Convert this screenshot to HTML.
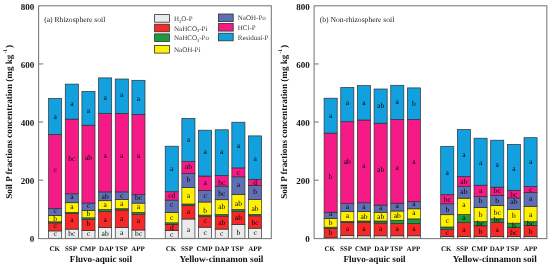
<!DOCTYPE html><html><head><meta charset="utf-8"><title>Soil P fractions</title><style>html,body{margin:0;padding:0;background:#fff;}svg{display:block;}text{font-family:"Liberation Serif","Times New Roman",serif;text-rendering:geometricPrecision;}.t{font-weight:bold;font-size:9px;fill:#111;}.x{font-weight:bold;font-size:7px;fill:#111;}.l{font-size:7.5px;fill:#000;}.lg{font-size:7px;fill:#3a3a3a;}.ti{font-size:7.6px;fill:#222;}</style></head><body>
<svg width="550" height="266" viewBox="0 0 550 266">
<rect x="0" y="0" width="550" height="266" fill="#fff"/>
<g transform="translate(0.00,0)">
<rect x="48.60" y="230.90" width="13.10" height="7.40" fill="#EBEBEB" stroke="#303030" stroke-width="0.70"/>
<rect x="48.60" y="222.90" width="13.10" height="8.00" fill="#F72828" stroke="#303030" stroke-width="0.70"/>
<rect x="48.60" y="221.80" width="13.10" height="1.10" fill="#1C9A3C" stroke="#303030" stroke-width="0.70"/>
<rect x="48.60" y="215.50" width="13.10" height="6.30" fill="#FEF000" stroke="#303030" stroke-width="0.70"/>
<rect x="48.60" y="208.50" width="13.10" height="7.00" fill="#5E70B3" stroke="#303030" stroke-width="0.70"/>
<rect x="48.60" y="134.40" width="13.10" height="74.10" fill="#F61A86" stroke="#303030" stroke-width="0.70"/>
<rect x="48.60" y="98.50" width="13.10" height="35.90" fill="#12A1DE" stroke="#303030" stroke-width="0.70"/>
<text class="l" x="55.15" y="235.80" text-anchor="middle">c</text>
<text class="l" x="55.15" y="228.20" text-anchor="middle">c</text>
<text class="l" x="55.15" y="220.90" text-anchor="middle">b</text>
<text class="l" x="55.15" y="213.40" text-anchor="middle">c</text>
<text class="l" x="55.15" y="171.50" text-anchor="middle">c</text>
<text class="l" x="55.15" y="118.70" text-anchor="middle">a</text>
<rect x="65.26" y="229.10" width="13.10" height="9.20" fill="#EBEBEB" stroke="#303030" stroke-width="0.70"/>
<rect x="65.26" y="213.60" width="13.10" height="15.50" fill="#F72828" stroke="#303030" stroke-width="0.70"/>
<rect x="65.26" y="212.40" width="13.10" height="1.20" fill="#1C9A3C" stroke="#303030" stroke-width="0.70"/>
<rect x="65.26" y="202.70" width="13.10" height="9.70" fill="#FEF000" stroke="#303030" stroke-width="0.70"/>
<rect x="65.26" y="193.80" width="13.10" height="8.90" fill="#5E70B3" stroke="#303030" stroke-width="0.70"/>
<rect x="65.26" y="119.10" width="13.10" height="74.70" fill="#F61A86" stroke="#303030" stroke-width="0.70"/>
<rect x="65.26" y="84.10" width="13.10" height="35.00" fill="#12A1DE" stroke="#303030" stroke-width="0.70"/>
<text class="l" x="71.81" y="236.00" text-anchor="middle">bc</text>
<text class="l" x="71.81" y="222.20" text-anchor="middle">a</text>
<text class="l" x="71.81" y="209.10" text-anchor="middle">a</text>
<text class="l" x="71.81" y="199.30" text-anchor="middle">a</text>
<text class="l" x="71.81" y="161.20" text-anchor="middle">bc</text>
<text class="l" x="71.81" y="105.50" text-anchor="middle">a</text>
<rect x="81.92" y="230.50" width="13.10" height="7.80" fill="#EBEBEB" stroke="#303030" stroke-width="0.70"/>
<rect x="81.92" y="219.30" width="13.10" height="11.20" fill="#F72828" stroke="#303030" stroke-width="0.70"/>
<rect x="81.92" y="217.80" width="13.10" height="1.50" fill="#1C9A3C" stroke="#303030" stroke-width="0.70"/>
<rect x="81.92" y="210.50" width="13.10" height="7.30" fill="#FEF000" stroke="#303030" stroke-width="0.70"/>
<rect x="81.92" y="203.00" width="13.10" height="7.50" fill="#5E70B3" stroke="#303030" stroke-width="0.70"/>
<rect x="81.92" y="125.20" width="13.10" height="77.80" fill="#F61A86" stroke="#303030" stroke-width="0.70"/>
<rect x="81.92" y="91.40" width="13.10" height="33.80" fill="#12A1DE" stroke="#303030" stroke-width="0.70"/>
<text class="l" x="88.47" y="236.00" text-anchor="middle">c</text>
<text class="l" x="88.47" y="226.40" text-anchor="middle">b</text>
<text class="l" x="88.47" y="216.00" text-anchor="middle">b</text>
<text class="l" x="88.47" y="208.20" text-anchor="middle">c</text>
<text class="l" x="88.47" y="159.70" text-anchor="middle">ab</text>
<text class="l" x="88.47" y="112.50" text-anchor="middle">a</text>
<rect x="98.58" y="227.40" width="13.10" height="10.90" fill="#EBEBEB" stroke="#303030" stroke-width="0.70"/>
<rect x="98.58" y="211.30" width="13.10" height="16.10" fill="#F72828" stroke="#303030" stroke-width="0.70"/>
<rect x="98.58" y="209.60" width="13.10" height="1.70" fill="#1C9A3C" stroke="#303030" stroke-width="0.70"/>
<rect x="98.58" y="200.70" width="13.10" height="8.90" fill="#FEF000" stroke="#303030" stroke-width="0.70"/>
<rect x="98.58" y="191.90" width="13.10" height="8.80" fill="#5E70B3" stroke="#303030" stroke-width="0.70"/>
<rect x="98.58" y="113.50" width="13.10" height="78.40" fill="#F61A86" stroke="#303030" stroke-width="0.70"/>
<rect x="98.58" y="77.90" width="13.10" height="35.60" fill="#12A1DE" stroke="#303030" stroke-width="0.70"/>
<text class="l" x="105.13" y="236.00" text-anchor="middle">ab</text>
<text class="l" x="105.13" y="221.80" text-anchor="middle">a</text>
<text class="l" x="105.13" y="206.90" text-anchor="middle">a</text>
<text class="l" x="105.13" y="199.00" text-anchor="middle">ab</text>
<text class="l" x="105.13" y="158.30" text-anchor="middle">a</text>
<text class="l" x="105.13" y="99.70" text-anchor="middle">a</text>
<rect x="115.24" y="227.40" width="13.10" height="10.90" fill="#EBEBEB" stroke="#303030" stroke-width="0.70"/>
<rect x="115.24" y="210.00" width="13.10" height="17.40" fill="#F72828" stroke="#303030" stroke-width="0.70"/>
<rect x="115.24" y="208.70" width="13.10" height="1.30" fill="#1C9A3C" stroke="#303030" stroke-width="0.70"/>
<rect x="115.24" y="199.40" width="13.10" height="9.30" fill="#FEF000" stroke="#303030" stroke-width="0.70"/>
<rect x="115.24" y="191.90" width="13.10" height="7.50" fill="#5E70B3" stroke="#303030" stroke-width="0.70"/>
<rect x="115.24" y="113.50" width="13.10" height="78.40" fill="#F61A86" stroke="#303030" stroke-width="0.70"/>
<rect x="115.24" y="79.00" width="13.10" height="34.50" fill="#12A1DE" stroke="#303030" stroke-width="0.70"/>
<text class="l" x="121.79" y="235.40" text-anchor="middle">a</text>
<text class="l" x="121.79" y="220.90" text-anchor="middle">a</text>
<text class="l" x="121.79" y="206.30" text-anchor="middle">a</text>
<text class="l" x="121.79" y="197.80" text-anchor="middle">c</text>
<text class="l" x="121.79" y="158.30" text-anchor="middle">a</text>
<text class="l" x="121.79" y="97.40" text-anchor="middle">a</text>
<rect x="131.90" y="230.00" width="13.10" height="8.30" fill="#EBEBEB" stroke="#303030" stroke-width="0.70"/>
<rect x="131.90" y="214.20" width="13.10" height="15.80" fill="#F72828" stroke="#303030" stroke-width="0.70"/>
<rect x="131.90" y="212.40" width="13.10" height="1.80" fill="#1C9A3C" stroke="#303030" stroke-width="0.70"/>
<rect x="131.90" y="203.10" width="13.10" height="9.30" fill="#FEF000" stroke="#303030" stroke-width="0.70"/>
<rect x="131.90" y="194.70" width="13.10" height="8.40" fill="#5E70B3" stroke="#303030" stroke-width="0.70"/>
<rect x="131.90" y="114.40" width="13.10" height="80.30" fill="#F61A86" stroke="#303030" stroke-width="0.70"/>
<rect x="131.90" y="80.30" width="13.10" height="34.10" fill="#12A1DE" stroke="#303030" stroke-width="0.70"/>
<text class="l" x="138.45" y="236.40" text-anchor="middle">bc</text>
<text class="l" x="138.45" y="223.30" text-anchor="middle">a</text>
<text class="l" x="138.45" y="209.40" text-anchor="middle">a</text>
<text class="l" x="138.45" y="200.30" text-anchor="middle">bc</text>
<text class="l" x="138.45" y="158.30" text-anchor="middle">a</text>
<text class="l" x="138.45" y="101.20" text-anchor="middle">a</text>
<rect x="165.20" y="230.50" width="13.10" height="7.80" fill="#EBEBEB" stroke="#303030" stroke-width="0.70"/>
<rect x="165.20" y="224.40" width="13.10" height="6.10" fill="#F72828" stroke="#303030" stroke-width="0.70"/>
<rect x="165.20" y="222.80" width="13.10" height="1.60" fill="#1C9A3C" stroke="#303030" stroke-width="0.70"/>
<rect x="165.20" y="212.50" width="13.10" height="10.30" fill="#FEF000" stroke="#303030" stroke-width="0.70"/>
<rect x="165.20" y="200.10" width="13.10" height="12.40" fill="#5E70B3" stroke="#303030" stroke-width="0.70"/>
<rect x="165.20" y="191.70" width="13.10" height="8.40" fill="#F61A86" stroke="#303030" stroke-width="0.70"/>
<rect x="165.20" y="146.20" width="13.10" height="45.50" fill="#12A1DE" stroke="#303030" stroke-width="0.70"/>
<text class="l" x="171.75" y="236.60" text-anchor="middle">c</text>
<text class="l" x="171.75" y="229.60" text-anchor="middle">d</text>
<text class="l" x="171.75" y="219.50" text-anchor="middle">c</text>
<text class="l" x="171.75" y="207.10" text-anchor="middle">c</text>
<text class="l" x="171.75" y="197.60" text-anchor="middle">cd</text>
<text class="l" x="171.75" y="171.20" text-anchor="middle">a</text>
<rect x="181.86" y="219.00" width="13.10" height="19.30" fill="#EBEBEB" stroke="#303030" stroke-width="0.70"/>
<rect x="181.86" y="205.60" width="13.10" height="13.40" fill="#F72828" stroke="#303030" stroke-width="0.70"/>
<rect x="181.86" y="204.00" width="13.10" height="1.60" fill="#1C9A3C" stroke="#303030" stroke-width="0.70"/>
<rect x="181.86" y="187.50" width="13.10" height="16.50" fill="#FEF000" stroke="#303030" stroke-width="0.70"/>
<rect x="181.86" y="173.50" width="13.10" height="14.00" fill="#5E70B3" stroke="#303030" stroke-width="0.70"/>
<rect x="181.86" y="161.60" width="13.10" height="11.90" fill="#F61A86" stroke="#303030" stroke-width="0.70"/>
<rect x="181.86" y="118.40" width="13.10" height="43.20" fill="#12A1DE" stroke="#303030" stroke-width="0.70"/>
<text class="l" x="188.41" y="231.50" text-anchor="middle">a</text>
<text class="l" x="188.41" y="214.30" text-anchor="middle">a</text>
<text class="l" x="188.41" y="197.60" text-anchor="middle">a</text>
<text class="l" x="188.41" y="181.70" text-anchor="middle">b</text>
<text class="l" x="188.41" y="169.30" text-anchor="middle">ab</text>
<text class="l" x="188.41" y="141.70" text-anchor="middle">a</text>
<rect x="198.52" y="227.20" width="13.10" height="11.10" fill="#EBEBEB" stroke="#303030" stroke-width="0.70"/>
<rect x="198.52" y="216.70" width="13.10" height="10.50" fill="#F72828" stroke="#303030" stroke-width="0.70"/>
<rect x="198.52" y="215.10" width="13.10" height="1.60" fill="#1C9A3C" stroke="#303030" stroke-width="0.70"/>
<rect x="198.52" y="202.00" width="13.10" height="13.10" fill="#FEF000" stroke="#303030" stroke-width="0.70"/>
<rect x="198.52" y="190.40" width="13.10" height="11.60" fill="#5E70B3" stroke="#303030" stroke-width="0.70"/>
<rect x="198.52" y="176.00" width="13.10" height="14.40" fill="#F61A86" stroke="#303030" stroke-width="0.70"/>
<rect x="198.52" y="130.20" width="13.10" height="45.80" fill="#12A1DE" stroke="#303030" stroke-width="0.70"/>
<text class="l" x="205.07" y="235.30" text-anchor="middle">c</text>
<text class="l" x="205.07" y="223.30" text-anchor="middle">c</text>
<text class="l" x="205.07" y="212.50" text-anchor="middle">b</text>
<text class="l" x="205.07" y="197.60" text-anchor="middle">c</text>
<text class="l" x="205.07" y="184.60" text-anchor="middle">a</text>
<text class="l" x="205.07" y="154.10" text-anchor="middle">a</text>
<rect x="215.18" y="229.10" width="13.10" height="9.20" fill="#EBEBEB" stroke="#303030" stroke-width="0.70"/>
<rect x="215.18" y="216.00" width="13.10" height="13.10" fill="#F72828" stroke="#303030" stroke-width="0.70"/>
<rect x="215.18" y="214.60" width="13.10" height="1.40" fill="#1C9A3C" stroke="#303030" stroke-width="0.70"/>
<rect x="215.18" y="199.70" width="13.10" height="14.90" fill="#FEF000" stroke="#303030" stroke-width="0.70"/>
<rect x="215.18" y="186.10" width="13.10" height="13.60" fill="#5E70B3" stroke="#303030" stroke-width="0.70"/>
<rect x="215.18" y="175.60" width="13.10" height="10.50" fill="#F61A86" stroke="#303030" stroke-width="0.70"/>
<rect x="215.18" y="129.80" width="13.10" height="45.80" fill="#12A1DE" stroke="#303030" stroke-width="0.70"/>
<text class="l" x="221.73" y="236.10" text-anchor="middle">c</text>
<text class="l" x="221.73" y="225.20" text-anchor="middle">ab</text>
<text class="l" x="221.73" y="208.70" text-anchor="middle">ab</text>
<text class="l" x="221.73" y="196.30" text-anchor="middle">bc</text>
<text class="l" x="221.73" y="185.00" text-anchor="middle">bc</text>
<text class="l" x="221.73" y="154.10" text-anchor="middle">a</text>
<rect x="231.84" y="224.40" width="13.10" height="13.90" fill="#EBEBEB" stroke="#303030" stroke-width="0.70"/>
<rect x="231.84" y="211.20" width="13.10" height="13.20" fill="#F72828" stroke="#303030" stroke-width="0.70"/>
<rect x="231.84" y="209.50" width="13.10" height="1.70" fill="#1C9A3C" stroke="#303030" stroke-width="0.70"/>
<rect x="231.84" y="194.50" width="13.10" height="15.00" fill="#FEF000" stroke="#303030" stroke-width="0.70"/>
<rect x="231.84" y="176.80" width="13.10" height="17.70" fill="#5E70B3" stroke="#303030" stroke-width="0.70"/>
<rect x="231.84" y="167.90" width="13.10" height="8.90" fill="#F61A86" stroke="#303030" stroke-width="0.70"/>
<rect x="231.84" y="122.20" width="13.10" height="45.70" fill="#12A1DE" stroke="#303030" stroke-width="0.70"/>
<text class="l" x="238.39" y="234.80" text-anchor="middle">b</text>
<text class="l" x="238.39" y="219.70" text-anchor="middle">ab</text>
<text class="l" x="238.39" y="205.80" text-anchor="middle">ab</text>
<text class="l" x="238.39" y="187.40" text-anchor="middle">a</text>
<text class="l" x="238.39" y="174.50" text-anchor="middle">c</text>
<text class="l" x="238.39" y="147.80" text-anchor="middle">a</text>
<rect x="248.50" y="228.20" width="13.10" height="10.10" fill="#EBEBEB" stroke="#303030" stroke-width="0.70"/>
<rect x="248.50" y="215.80" width="13.10" height="12.40" fill="#F72828" stroke="#303030" stroke-width="0.70"/>
<rect x="248.50" y="214.50" width="13.10" height="1.30" fill="#1C9A3C" stroke="#303030" stroke-width="0.70"/>
<rect x="248.50" y="199.50" width="13.10" height="15.00" fill="#FEF000" stroke="#303030" stroke-width="0.70"/>
<rect x="248.50" y="185.40" width="13.10" height="14.10" fill="#5E70B3" stroke="#303030" stroke-width="0.70"/>
<rect x="248.50" y="179.30" width="13.10" height="6.10" fill="#F61A86" stroke="#303030" stroke-width="0.70"/>
<rect x="248.50" y="135.90" width="13.10" height="43.40" fill="#12A1DE" stroke="#303030" stroke-width="0.70"/>
<text class="l" x="255.05" y="235.30" text-anchor="middle">c</text>
<text class="l" x="255.05" y="224.80" text-anchor="middle">bc</text>
<text class="l" x="255.05" y="210.60" text-anchor="middle">ab</text>
<text class="l" x="255.05" y="194.40" text-anchor="middle">b</text>
<text class="l" x="255.05" y="185.00" text-anchor="middle">d</text>
<text class="l" x="255.05" y="161.10" text-anchor="middle">a</text>
<text class="x" x="54.80" y="250.7" text-anchor="middle">CK</text>
<text class="x" x="71.00" y="250.7" text-anchor="middle">SSP</text>
<text class="x" x="87.80" y="250.7" text-anchor="middle">CMP</text>
<text class="x" x="106.30" y="250.7" text-anchor="middle">DAP</text>
<text class="x" x="121.30" y="250.7" text-anchor="middle">TSP</text>
<text class="x" x="138.00" y="250.7" text-anchor="middle">APP</text>
<text class="x" x="171.00" y="250.7" text-anchor="middle">CK</text>
<text class="x" x="187.00" y="250.7" text-anchor="middle">SSP</text>
<text class="x" x="204.50" y="250.7" text-anchor="middle">CMP</text>
<text class="x" x="222.00" y="250.7" text-anchor="middle">DAP</text>
<text class="x" x="237.30" y="250.7" text-anchor="middle">TSP</text>
<text class="x" x="255.00" y="250.7" text-anchor="middle">APP</text>
<text class="t" style="font-size:9.15px" x="100.90" y="261.8" text-anchor="middle">Fluvo-aquic soil</text>
<text class="t" style="font-size:9.25px" x="221.40" y="261.9" text-anchor="middle">Yellow-cinnamon soil</text>
<rect x="38.6" y="5.8" width="232.7" height="232.8" fill="none" stroke="#777" stroke-width="1.05"/>
<line x1="38.6" y1="180.18" x2="43.2" y2="180.18" stroke="#777" stroke-width="1.05"/>
<line x1="38.6" y1="122.05" x2="43.2" y2="122.05" stroke="#777" stroke-width="1.05"/>
<line x1="38.6" y1="63.93" x2="43.2" y2="63.93" stroke="#777" stroke-width="1.05"/>
<text class="t" x="34.2" y="242.10" text-anchor="end">0</text>
<text class="t" x="34.2" y="183.98" text-anchor="end">200</text>
<text class="t" x="34.2" y="125.85" text-anchor="end">400</text>
<text class="t" x="34.2" y="67.73" text-anchor="end">600</text>
<text class="t" x="34.2" y="9.60" text-anchor="end">800</text>
<text class="t" style="font-size:9.15px" transform="translate(11.5,198.8) rotate(-90)">Soil P fractions concentration (mg kg<tspan font-size="5.6" dx="1.0" dy="-4.8">-1</tspan><tspan dx="0.9" dy="4.8">)</tspan></text>
<text class="ti" x="44.2" y="22.0">(a) Rhizosphere soil</text>
</g>
<g transform="translate(275.50,0)">
<rect x="48.60" y="237.80" width="13.10" height="0.50" fill="#EBEBEB" stroke="#303030" stroke-width="0.70"/>
<rect x="48.60" y="228.60" width="13.10" height="9.20" fill="#F72828" stroke="#303030" stroke-width="0.70"/>
<rect x="48.60" y="227.20" width="13.10" height="1.40" fill="#1C9A3C" stroke="#303030" stroke-width="0.70"/>
<rect x="48.60" y="218.40" width="13.10" height="8.80" fill="#FEF000" stroke="#303030" stroke-width="0.70"/>
<rect x="48.60" y="212.20" width="13.10" height="6.20" fill="#5E70B3" stroke="#303030" stroke-width="0.70"/>
<rect x="48.60" y="133.10" width="13.10" height="79.10" fill="#F61A86" stroke="#303030" stroke-width="0.70"/>
<rect x="48.60" y="98.20" width="13.10" height="34.90" fill="#12A1DE" stroke="#303030" stroke-width="0.70"/>
<text class="l" x="55.15" y="234.70" text-anchor="middle">b</text>
<text class="l" x="55.15" y="225.00" text-anchor="middle">b</text>
<text class="l" x="55.15" y="215.90" text-anchor="middle">a</text>
<text class="l" x="55.15" y="178.90" text-anchor="middle">b</text>
<text class="l" x="55.15" y="117.90" text-anchor="middle">a</text>
<rect x="65.26" y="235.60" width="13.10" height="2.70" fill="#EBEBEB" stroke="#303030" stroke-width="0.70"/>
<rect x="65.26" y="222.50" width="13.10" height="13.10" fill="#F72828" stroke="#303030" stroke-width="0.70"/>
<rect x="65.26" y="221.40" width="13.10" height="1.10" fill="#1C9A3C" stroke="#303030" stroke-width="0.70"/>
<rect x="65.26" y="211.60" width="13.10" height="9.80" fill="#FEF000" stroke="#303030" stroke-width="0.70"/>
<rect x="65.26" y="203.50" width="13.10" height="8.10" fill="#5E70B3" stroke="#303030" stroke-width="0.70"/>
<rect x="65.26" y="121.70" width="13.10" height="81.80" fill="#F61A86" stroke="#303030" stroke-width="0.70"/>
<rect x="65.26" y="87.50" width="13.10" height="34.20" fill="#12A1DE" stroke="#303030" stroke-width="0.70"/>
<text class="l" x="71.81" y="231.00" text-anchor="middle">a</text>
<text class="l" x="71.81" y="218.30" text-anchor="middle">a</text>
<text class="l" x="71.81" y="208.60" text-anchor="middle">a</text>
<text class="l" x="71.81" y="164.10" text-anchor="middle">ab</text>
<text class="l" x="71.81" y="105.30" text-anchor="middle">a</text>
<rect x="81.92" y="235.80" width="13.10" height="2.50" fill="#EBEBEB" stroke="#303030" stroke-width="0.70"/>
<rect x="81.92" y="222.20" width="13.10" height="13.60" fill="#F72828" stroke="#303030" stroke-width="0.70"/>
<rect x="81.92" y="221.00" width="13.10" height="1.20" fill="#1C9A3C" stroke="#303030" stroke-width="0.70"/>
<rect x="81.92" y="211.60" width="13.10" height="9.40" fill="#FEF000" stroke="#303030" stroke-width="0.70"/>
<rect x="81.92" y="202.80" width="13.10" height="8.80" fill="#5E70B3" stroke="#303030" stroke-width="0.70"/>
<rect x="81.92" y="120.00" width="13.10" height="82.80" fill="#F61A86" stroke="#303030" stroke-width="0.70"/>
<rect x="81.92" y="85.60" width="13.10" height="34.40" fill="#12A1DE" stroke="#303030" stroke-width="0.70"/>
<text class="l" x="88.47" y="231.00" text-anchor="middle">a</text>
<text class="l" x="88.47" y="218.90" text-anchor="middle">ab</text>
<text class="l" x="88.47" y="209.20" text-anchor="middle">a</text>
<text class="l" x="88.47" y="168.20" text-anchor="middle">a</text>
<text class="l" x="88.47" y="105.30" text-anchor="middle">a</text>
<rect x="98.58" y="235.80" width="13.10" height="2.50" fill="#EBEBEB" stroke="#303030" stroke-width="0.70"/>
<rect x="98.58" y="223.00" width="13.10" height="12.80" fill="#F72828" stroke="#303030" stroke-width="0.70"/>
<rect x="98.58" y="221.00" width="13.10" height="2.00" fill="#1C9A3C" stroke="#303030" stroke-width="0.70"/>
<rect x="98.58" y="212.20" width="13.10" height="8.80" fill="#FEF000" stroke="#303030" stroke-width="0.70"/>
<rect x="98.58" y="205.00" width="13.10" height="7.20" fill="#5E70B3" stroke="#303030" stroke-width="0.70"/>
<rect x="98.58" y="123.20" width="13.10" height="81.80" fill="#F61A86" stroke="#303030" stroke-width="0.70"/>
<rect x="98.58" y="89.00" width="13.10" height="34.20" fill="#12A1DE" stroke="#303030" stroke-width="0.70"/>
<text class="l" x="105.13" y="231.00" text-anchor="middle">a</text>
<text class="l" x="105.13" y="218.90" text-anchor="middle">ab</text>
<text class="l" x="105.13" y="209.90" text-anchor="middle">a</text>
<text class="l" x="105.13" y="171.60" text-anchor="middle">ab</text>
<text class="l" x="105.13" y="108.20" text-anchor="middle">ab</text>
<rect x="115.24" y="235.80" width="13.10" height="2.50" fill="#EBEBEB" stroke="#303030" stroke-width="0.70"/>
<rect x="115.24" y="223.60" width="13.10" height="12.20" fill="#F72828" stroke="#303030" stroke-width="0.70"/>
<rect x="115.24" y="220.30" width="13.10" height="3.30" fill="#1C9A3C" stroke="#303030" stroke-width="0.70"/>
<rect x="115.24" y="211.00" width="13.10" height="9.30" fill="#FEF000" stroke="#303030" stroke-width="0.70"/>
<rect x="115.24" y="203.20" width="13.10" height="7.80" fill="#5E70B3" stroke="#303030" stroke-width="0.70"/>
<rect x="115.24" y="119.50" width="13.10" height="83.70" fill="#F61A86" stroke="#303030" stroke-width="0.70"/>
<rect x="115.24" y="85.30" width="13.10" height="34.20" fill="#12A1DE" stroke="#303030" stroke-width="0.70"/>
<text class="l" x="121.79" y="231.30" text-anchor="middle">a</text>
<text class="l" x="121.79" y="217.80" text-anchor="middle">ab</text>
<text class="l" x="121.79" y="208.10" text-anchor="middle">a</text>
<text class="l" x="121.79" y="169.70" text-anchor="middle">a</text>
<text class="l" x="121.79" y="104.40" text-anchor="middle">a</text>
<rect x="131.90" y="235.80" width="13.10" height="2.50" fill="#EBEBEB" stroke="#303030" stroke-width="0.70"/>
<rect x="131.90" y="223.60" width="13.10" height="12.20" fill="#F72828" stroke="#303030" stroke-width="0.70"/>
<rect x="131.90" y="218.90" width="13.10" height="4.70" fill="#1C9A3C" stroke="#303030" stroke-width="0.70"/>
<rect x="131.90" y="208.80" width="13.10" height="10.10" fill="#FEF000" stroke="#303030" stroke-width="0.70"/>
<rect x="131.90" y="201.70" width="13.10" height="7.10" fill="#5E70B3" stroke="#303030" stroke-width="0.70"/>
<rect x="131.90" y="119.50" width="13.10" height="82.20" fill="#F61A86" stroke="#303030" stroke-width="0.70"/>
<rect x="131.90" y="87.90" width="13.10" height="31.60" fill="#12A1DE" stroke="#303030" stroke-width="0.70"/>
<text class="l" x="138.45" y="231.30" text-anchor="middle">a</text>
<text class="l" x="138.45" y="215.30" text-anchor="middle">a</text>
<text class="l" x="138.45" y="206.30" text-anchor="middle">a</text>
<text class="l" x="138.45" y="163.50" text-anchor="middle">a</text>
<text class="l" x="138.45" y="105.90" text-anchor="middle">b</text>
<rect x="165.20" y="236.40" width="13.10" height="1.90" fill="#EBEBEB" stroke="#303030" stroke-width="0.70"/>
<rect x="165.20" y="229.20" width="13.10" height="7.20" fill="#F72828" stroke="#303030" stroke-width="0.70"/>
<rect x="165.20" y="227.00" width="13.10" height="2.20" fill="#1C9A3C" stroke="#303030" stroke-width="0.70"/>
<rect x="165.20" y="214.70" width="13.10" height="12.30" fill="#FEF000" stroke="#303030" stroke-width="0.70"/>
<rect x="165.20" y="203.80" width="13.10" height="10.90" fill="#5E70B3" stroke="#303030" stroke-width="0.70"/>
<rect x="165.20" y="194.70" width="13.10" height="9.10" fill="#F61A86" stroke="#303030" stroke-width="0.70"/>
<rect x="165.20" y="146.30" width="13.10" height="48.40" fill="#12A1DE" stroke="#303030" stroke-width="0.70"/>
<text class="l" x="171.75" y="234.70" text-anchor="middle">c</text>
<text class="l" x="171.75" y="222.70" text-anchor="middle">c</text>
<text class="l" x="171.75" y="211.50" text-anchor="middle">b</text>
<text class="l" x="171.75" y="201.70" text-anchor="middle">bc</text>
<text class="l" x="171.75" y="174.90" text-anchor="middle">a</text>
<rect x="181.86" y="236.40" width="13.10" height="1.90" fill="#EBEBEB" stroke="#303030" stroke-width="0.70"/>
<rect x="181.86" y="222.60" width="13.10" height="13.80" fill="#F72828" stroke="#303030" stroke-width="0.70"/>
<rect x="181.86" y="214.50" width="13.10" height="8.10" fill="#1C9A3C" stroke="#303030" stroke-width="0.70"/>
<rect x="181.86" y="198.20" width="13.10" height="16.30" fill="#FEF000" stroke="#303030" stroke-width="0.70"/>
<rect x="181.86" y="186.50" width="13.10" height="11.70" fill="#5E70B3" stroke="#303030" stroke-width="0.70"/>
<rect x="181.86" y="176.60" width="13.10" height="9.90" fill="#F61A86" stroke="#303030" stroke-width="0.70"/>
<rect x="181.86" y="129.50" width="13.10" height="47.10" fill="#12A1DE" stroke="#303030" stroke-width="0.70"/>
<text class="l" x="188.41" y="231.90" text-anchor="middle">a</text>
<text class="l" x="188.41" y="220.00" text-anchor="middle">a</text>
<text class="l" x="188.41" y="207.10" text-anchor="middle">a</text>
<text class="l" x="188.41" y="194.00" text-anchor="middle">ab</text>
<text class="l" x="188.41" y="184.10" text-anchor="middle">ab</text>
<text class="l" x="188.41" y="156.70" text-anchor="middle">a</text>
<rect x="198.52" y="236.40" width="13.10" height="1.90" fill="#EBEBEB" stroke="#303030" stroke-width="0.70"/>
<rect x="198.52" y="225.80" width="13.10" height="10.60" fill="#F72828" stroke="#303030" stroke-width="0.70"/>
<rect x="198.52" y="221.70" width="13.10" height="4.10" fill="#1C9A3C" stroke="#303030" stroke-width="0.70"/>
<rect x="198.52" y="207.50" width="13.10" height="14.20" fill="#FEF000" stroke="#303030" stroke-width="0.70"/>
<rect x="198.52" y="196.40" width="13.10" height="11.10" fill="#5E70B3" stroke="#303030" stroke-width="0.70"/>
<rect x="198.52" y="185.20" width="13.10" height="11.20" fill="#F61A86" stroke="#303030" stroke-width="0.70"/>
<rect x="198.52" y="138.20" width="13.10" height="47.00" fill="#12A1DE" stroke="#303030" stroke-width="0.70"/>
<text class="l" x="205.07" y="234.00" text-anchor="middle">b</text>
<text class="l" x="205.07" y="226.40" text-anchor="middle">bc</text>
<text class="l" x="205.07" y="216.80" text-anchor="middle">b</text>
<text class="l" x="205.07" y="203.20" text-anchor="middle">b</text>
<text class="l" x="205.07" y="192.70" text-anchor="middle">a</text>
<text class="l" x="205.07" y="164.80" text-anchor="middle">a</text>
<rect x="215.18" y="236.40" width="13.10" height="1.90" fill="#EBEBEB" stroke="#303030" stroke-width="0.70"/>
<rect x="215.18" y="222.60" width="13.10" height="13.80" fill="#F72828" stroke="#303030" stroke-width="0.70"/>
<rect x="215.18" y="218.80" width="13.10" height="3.80" fill="#1C9A3C" stroke="#303030" stroke-width="0.70"/>
<rect x="215.18" y="205.40" width="13.10" height="13.40" fill="#FEF000" stroke="#303030" stroke-width="0.70"/>
<rect x="215.18" y="195.40" width="13.10" height="10.00" fill="#5E70B3" stroke="#303030" stroke-width="0.70"/>
<rect x="215.18" y="187.10" width="13.10" height="8.30" fill="#F61A86" stroke="#303030" stroke-width="0.70"/>
<rect x="215.18" y="140.20" width="13.10" height="46.90" fill="#12A1DE" stroke="#303030" stroke-width="0.70"/>
<text class="l" x="221.73" y="231.90" text-anchor="middle">a</text>
<text class="l" x="221.73" y="222.40" text-anchor="middle">bc</text>
<text class="l" x="221.73" y="214.90" text-anchor="middle">bc</text>
<text class="l" x="221.73" y="203.20" text-anchor="middle">b</text>
<text class="l" x="221.73" y="193.30" text-anchor="middle">bc</text>
<text class="l" x="221.73" y="167.30" text-anchor="middle">a</text>
<rect x="231.84" y="236.40" width="13.10" height="1.90" fill="#EBEBEB" stroke="#303030" stroke-width="0.70"/>
<rect x="231.84" y="227.40" width="13.10" height="9.00" fill="#F72828" stroke="#303030" stroke-width="0.70"/>
<rect x="231.84" y="223.20" width="13.10" height="4.20" fill="#1C9A3C" stroke="#303030" stroke-width="0.70"/>
<rect x="231.84" y="209.60" width="13.10" height="13.60" fill="#FEF000" stroke="#303030" stroke-width="0.70"/>
<rect x="231.84" y="198.00" width="13.10" height="11.60" fill="#5E70B3" stroke="#303030" stroke-width="0.70"/>
<rect x="231.84" y="190.30" width="13.10" height="7.70" fill="#F61A86" stroke="#303030" stroke-width="0.70"/>
<rect x="231.84" y="144.40" width="13.10" height="45.90" fill="#12A1DE" stroke="#303030" stroke-width="0.70"/>
<text class="l" x="238.39" y="235.30" text-anchor="middle">bc</text>
<text class="l" x="238.39" y="227.70" text-anchor="middle">b</text>
<text class="l" x="238.39" y="218.20" text-anchor="middle">b</text>
<text class="l" x="238.39" y="204.20" text-anchor="middle">ab</text>
<text class="l" x="238.39" y="196.50" text-anchor="middle">bc</text>
<text class="l" x="238.39" y="170.50" text-anchor="middle">a</text>
<rect x="248.50" y="236.40" width="13.10" height="1.90" fill="#EBEBEB" stroke="#303030" stroke-width="0.70"/>
<rect x="248.50" y="225.60" width="13.10" height="10.80" fill="#F72828" stroke="#303030" stroke-width="0.70"/>
<rect x="248.50" y="221.70" width="13.10" height="3.90" fill="#1C9A3C" stroke="#303030" stroke-width="0.70"/>
<rect x="248.50" y="206.30" width="13.10" height="15.40" fill="#FEF000" stroke="#303030" stroke-width="0.70"/>
<rect x="248.50" y="192.40" width="13.10" height="13.90" fill="#5E70B3" stroke="#303030" stroke-width="0.70"/>
<rect x="248.50" y="186.50" width="13.10" height="5.90" fill="#F61A86" stroke="#303030" stroke-width="0.70"/>
<rect x="248.50" y="137.70" width="13.10" height="48.80" fill="#12A1DE" stroke="#303030" stroke-width="0.70"/>
<text class="l" x="255.05" y="234.00" text-anchor="middle">b</text>
<text class="l" x="255.05" y="225.80" text-anchor="middle">bc</text>
<text class="l" x="255.05" y="216.60" text-anchor="middle">a</text>
<text class="l" x="255.05" y="201.10" text-anchor="middle">a</text>
<text class="l" x="255.05" y="191.50" text-anchor="middle">c</text>
<text class="l" x="255.05" y="163.50" text-anchor="middle">a</text>
<text class="x" x="54.30" y="250.7" text-anchor="middle">CK</text>
<text class="x" x="70.50" y="250.7" text-anchor="middle">SSP</text>
<text class="x" x="87.50" y="250.7" text-anchor="middle">CMP</text>
<text class="x" x="106.00" y="250.7" text-anchor="middle">DAP</text>
<text class="x" x="120.80" y="250.7" text-anchor="middle">TSP</text>
<text class="x" x="137.90" y="250.7" text-anchor="middle">APP</text>
<text class="x" x="170.70" y="250.7" text-anchor="middle">CK</text>
<text class="x" x="186.70" y="250.7" text-anchor="middle">SSP</text>
<text class="x" x="204.00" y="250.7" text-anchor="middle">CMP</text>
<text class="x" x="221.50" y="250.7" text-anchor="middle">DAP</text>
<text class="x" x="237.00" y="250.7" text-anchor="middle">TSP</text>
<text class="x" x="255.00" y="250.7" text-anchor="middle">APP</text>
<text class="t" style="font-size:9.15px" x="99.00" y="261.8" text-anchor="middle">Fluvo-aquic soil</text>
<text class="t" style="font-size:9.25px" x="219.20" y="261.9" text-anchor="middle">Yellow-cinnamon soil</text>
<rect x="38.6" y="5.8" width="232.7" height="232.8" fill="none" stroke="#777" stroke-width="1.05"/>
<line x1="38.6" y1="180.18" x2="43.2" y2="180.18" stroke="#777" stroke-width="1.05"/>
<line x1="38.6" y1="122.05" x2="43.2" y2="122.05" stroke="#777" stroke-width="1.05"/>
<line x1="38.6" y1="63.93" x2="43.2" y2="63.93" stroke="#777" stroke-width="1.05"/>
<text class="t" x="34.2" y="242.10" text-anchor="end">0</text>
<text class="t" x="34.2" y="183.98" text-anchor="end">200</text>
<text class="t" x="34.2" y="125.85" text-anchor="end">400</text>
<text class="t" x="34.2" y="67.73" text-anchor="end">600</text>
<text class="t" x="34.2" y="9.60" text-anchor="end">800</text>
<text class="t" style="font-size:9.15px" transform="translate(11.5,198.8) rotate(-90)">Soil P fractions concentration (mg kg<tspan font-size="5.6" dx="1.0" dy="-4.8">-1</tspan><tspan dx="0.9" dy="4.8">)</tspan></text>
<text class="ti" x="44.2" y="22.0">(b) Non-rhizosphere soil</text>
</g>
<rect x="154.60" y="14.60" width="14.8" height="7.6" fill="#EBEBEB" stroke="#303030" stroke-width="0.8"/>
<text class="lg" x="174.00" y="21.00">H<tspan font-size="4.6" dy="1.6">2</tspan><tspan dy="-1.6">O-P</tspan></text>
<rect x="154.60" y="24.20" width="14.8" height="7.6" fill="#F72828" stroke="#303030" stroke-width="0.8"/>
<text class="lg" x="174.00" y="30.60">NaHCO<tspan font-size="4.6" dy="1.6">3</tspan><tspan dy="-1.6">-Pi</tspan></text>
<rect x="154.60" y="33.90" width="14.8" height="7.6" fill="#1C9A3C" stroke="#303030" stroke-width="0.8"/>
<text class="lg" x="174.00" y="40.30">NaHCO<tspan font-size="4.6" dy="1.6">3</tspan><tspan dy="-1.6">-Po</tspan></text>
<rect x="154.60" y="45.50" width="14.8" height="7.6" fill="#FEF000" stroke="#303030" stroke-width="0.8"/>
<text class="lg" x="174.00" y="51.90">NaOH-Pi</text>
<rect x="218.40" y="14.00" width="14.8" height="7.6" fill="#5E70B3" stroke="#303030" stroke-width="0.8"/>
<text class="lg" x="237.80" y="20.40">NaOH-Po</text>
<rect x="218.40" y="23.50" width="14.8" height="7.6" fill="#F61A86" stroke="#303030" stroke-width="0.8"/>
<text class="lg" x="237.80" y="29.90">HCl-P</text>
<rect x="218.40" y="33.20" width="14.8" height="7.6" fill="#12A1DE" stroke="#303030" stroke-width="0.8"/>
<text class="lg" x="237.80" y="39.60">Residual-P</text>
</svg></body></html>
